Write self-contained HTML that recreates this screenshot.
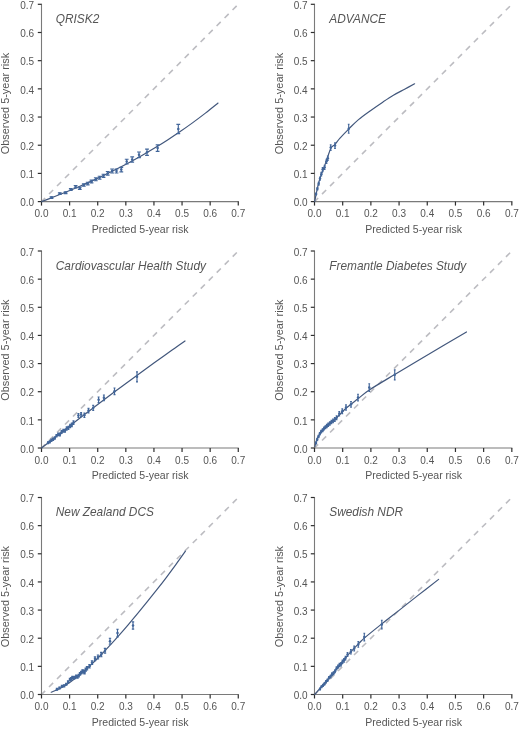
<!DOCTYPE html>
<html><head><meta charset="utf-8"><title>Calibration plots</title>
<style>
html,body{margin:0;padding:0;background:#fff}
svg{display:block;filter:blur(0.3px)}
text{font-family:"Liberation Sans",Arial,Helvetica,sans-serif;fill:#555555}
.t{font-size:10px}
.l{font-size:10.6px}
.l2{font-size:10.3px}
.h{font-size:11.85px;font-style:italic}
</style></head><body>
<svg width="520" height="729" viewBox="0 0 520 729">
<rect width="520" height="729" fill="#fff"/>
<line x1="41.5" y1="201.6" x2="238.27" y2="4.3" stroke="#bcbcc1" stroke-width="1.6" stroke-dasharray="5.8 5.5" stroke-dashoffset="0.65"/>
<path d="M41.5 3.8V201.6H238.77" fill="none" stroke="#7a7a7a" stroke-width="1.1"/>
<line x1="41.50" y1="201.6" x2="41.50" y2="205.6" stroke="#2e2e2e" stroke-width="1.2"/>
<line x1="37.8" y1="201.60" x2="41.5" y2="201.60" stroke="#2e2e2e" stroke-width="1.2"/>
<text x="41.50" y="217.40" text-anchor="middle" class="t">0.0</text>
<text x="34.20" y="206.30" text-anchor="end" class="t">0.0</text>
<line x1="69.61" y1="201.6" x2="69.61" y2="205.6" stroke="#2e2e2e" stroke-width="1.2"/>
<line x1="37.8" y1="173.41" x2="41.5" y2="173.41" stroke="#2e2e2e" stroke-width="1.2"/>
<text x="69.61" y="217.40" text-anchor="middle" class="t">0.1</text>
<text x="34.20" y="178.11" text-anchor="end" class="t">0.1</text>
<line x1="97.72" y1="201.6" x2="97.72" y2="205.6" stroke="#2e2e2e" stroke-width="1.2"/>
<line x1="37.8" y1="145.23" x2="41.5" y2="145.23" stroke="#2e2e2e" stroke-width="1.2"/>
<text x="97.72" y="217.40" text-anchor="middle" class="t">0.2</text>
<text x="34.20" y="149.93" text-anchor="end" class="t">0.2</text>
<line x1="125.83" y1="201.6" x2="125.83" y2="205.6" stroke="#2e2e2e" stroke-width="1.2"/>
<line x1="37.8" y1="117.04" x2="41.5" y2="117.04" stroke="#2e2e2e" stroke-width="1.2"/>
<text x="125.83" y="217.40" text-anchor="middle" class="t">0.3</text>
<text x="34.20" y="121.74" text-anchor="end" class="t">0.3</text>
<line x1="153.94" y1="201.6" x2="153.94" y2="205.6" stroke="#2e2e2e" stroke-width="1.2"/>
<line x1="37.8" y1="88.86" x2="41.5" y2="88.86" stroke="#2e2e2e" stroke-width="1.2"/>
<text x="153.94" y="217.40" text-anchor="middle" class="t">0.4</text>
<text x="34.20" y="93.56" text-anchor="end" class="t">0.4</text>
<line x1="182.05" y1="201.6" x2="182.05" y2="205.6" stroke="#2e2e2e" stroke-width="1.2"/>
<line x1="37.8" y1="60.67" x2="41.5" y2="60.67" stroke="#2e2e2e" stroke-width="1.2"/>
<text x="182.05" y="217.40" text-anchor="middle" class="t">0.5</text>
<text x="34.20" y="65.37" text-anchor="end" class="t">0.5</text>
<line x1="210.16" y1="201.6" x2="210.16" y2="205.6" stroke="#2e2e2e" stroke-width="1.2"/>
<line x1="37.8" y1="32.49" x2="41.5" y2="32.49" stroke="#2e2e2e" stroke-width="1.2"/>
<text x="210.16" y="217.40" text-anchor="middle" class="t">0.6</text>
<text x="34.20" y="37.19" text-anchor="end" class="t">0.6</text>
<line x1="238.27" y1="201.6" x2="238.27" y2="205.6" stroke="#2e2e2e" stroke-width="1.2"/>
<line x1="37.8" y1="4.30" x2="41.5" y2="4.30" stroke="#2e2e2e" stroke-width="1.2"/>
<text x="238.27" y="217.40" text-anchor="middle" class="t">0.7</text>
<text x="34.20" y="9.00" text-anchor="end" class="t">0.7</text>
<text x="91.80" y="232.90" class="l" textLength="96.7" lengthAdjust="spacingAndGlyphs">Predicted 5-year risk</text>
<text transform="translate(9.00 154.25) rotate(-90)" class="l2" textLength="101.4" lengthAdjust="spacingAndGlyphs">Observed 5-year risk</text>
<text x="55.80" y="23.20" class="h">QRISK2</text>
<path d="M41.50 201.60 C43.60 200.80 49.91 198.42 54.11 196.78 C58.31 195.13 62.52 193.46 66.72 191.74 C70.92 190.02 75.12 188.26 79.33 186.45 C83.53 184.64 87.73 182.79 91.94 180.89 C96.14 178.98 100.34 177.03 104.55 175.01 C108.75 173.00 112.95 170.93 117.16 168.80 C121.36 166.66 125.56 164.47 129.77 162.21 C133.97 159.95 138.17 157.63 142.37 155.22 C146.58 152.82 150.78 150.35 154.98 147.80 C159.19 145.25 163.39 142.63 167.59 139.91 C171.80 137.20 176.00 134.41 180.20 131.53 C184.41 128.65 188.61 125.68 192.81 122.62 C197.02 119.56 201.22 116.41 205.42 113.15 C209.62 109.90 215.93 104.77 218.03 103.09" fill="none" stroke="#42577c" stroke-width="1.2" stroke-linecap="round"/>
<path d="M51.50 196.70V198.30M49.60 196.70h3.8M49.60 198.30h3.8" stroke="#42669a" stroke-width="1.15" fill="none"/>
<circle cx="51.50" cy="197.50" r="1.25" fill="#42669a"/>
<path d="M59.80 192.90V194.50M57.90 192.90h3.8M57.90 194.50h3.8" stroke="#42669a" stroke-width="1.15" fill="none"/>
<circle cx="59.80" cy="193.70" r="1.25" fill="#42669a"/>
<path d="M65.60 191.80V193.60M63.70 191.80h3.8M63.70 193.60h3.8" stroke="#42669a" stroke-width="1.15" fill="none"/>
<circle cx="65.60" cy="192.70" r="1.25" fill="#42669a"/>
<path d="M70.80 188.50V190.30M68.90 188.50h3.8M68.90 190.30h3.8" stroke="#42669a" stroke-width="1.15" fill="none"/>
<circle cx="70.80" cy="189.40" r="1.25" fill="#42669a"/>
<path d="M75.60 185.50V187.90M73.70 185.50h3.8M73.70 187.90h3.8" stroke="#42669a" stroke-width="1.15" fill="none"/>
<circle cx="75.60" cy="186.70" r="1.25" fill="#42669a"/>
<path d="M79.80 187.10V189.50M77.90 187.10h3.8M77.90 189.50h3.8" stroke="#42669a" stroke-width="1.15" fill="none"/>
<circle cx="79.80" cy="188.30" r="1.25" fill="#42669a"/>
<path d="M83.80 183.80V186.20M81.90 183.80h3.8M81.90 186.20h3.8" stroke="#42669a" stroke-width="1.15" fill="none"/>
<circle cx="83.80" cy="185.00" r="1.25" fill="#42669a"/>
<path d="M87.70 182.20V184.80M85.80 182.20h3.8M85.80 184.80h3.8" stroke="#42669a" stroke-width="1.15" fill="none"/>
<circle cx="87.70" cy="183.50" r="1.25" fill="#42669a"/>
<path d="M91.50 180.10V182.90M89.60 180.10h3.8M89.60 182.90h3.8" stroke="#42669a" stroke-width="1.15" fill="none"/>
<circle cx="91.50" cy="181.50" r="1.25" fill="#42669a"/>
<path d="M95.80 177.70V180.70M93.90 177.70h3.8M93.90 180.70h3.8" stroke="#42669a" stroke-width="1.15" fill="none"/>
<circle cx="95.80" cy="179.20" r="1.25" fill="#42669a"/>
<path d="M99.60 176.20V179.20M97.70 176.20h3.8M97.70 179.20h3.8" stroke="#42669a" stroke-width="1.15" fill="none"/>
<circle cx="99.60" cy="177.70" r="1.25" fill="#42669a"/>
<path d="M103.50 174.20V177.40M101.60 174.20h3.8M101.60 177.40h3.8" stroke="#42669a" stroke-width="1.15" fill="none"/>
<circle cx="103.50" cy="175.80" r="1.25" fill="#42669a"/>
<path d="M107.70 171.50V175.10M105.80 171.50h3.8M105.80 175.10h3.8" stroke="#42669a" stroke-width="1.15" fill="none"/>
<circle cx="107.70" cy="173.30" r="1.25" fill="#42669a"/>
<path d="M112.10 169.00V173.00M110.20 169.00h3.8M110.20 173.00h3.8" stroke="#42669a" stroke-width="1.15" fill="none"/>
<circle cx="112.10" cy="171.00" r="1.25" fill="#42669a"/>
<path d="M116.50 169.00V173.00M114.60 169.00h3.8M114.60 173.00h3.8" stroke="#42669a" stroke-width="1.15" fill="none"/>
<circle cx="116.50" cy="171.00" r="1.25" fill="#42669a"/>
<path d="M121.30 167.40V171.80M119.40 167.40h3.8M119.40 171.80h3.8" stroke="#42669a" stroke-width="1.15" fill="none"/>
<circle cx="121.30" cy="169.60" r="1.25" fill="#42669a"/>
<path d="M126.70 159.20V164.00M124.80 159.20h3.8M124.80 164.00h3.8" stroke="#42669a" stroke-width="1.15" fill="none"/>
<circle cx="126.70" cy="161.60" r="1.25" fill="#42669a"/>
<path d="M132.20 156.90V162.10M130.30 156.90h3.8M130.30 162.10h3.8" stroke="#42669a" stroke-width="1.15" fill="none"/>
<circle cx="132.20" cy="159.50" r="1.25" fill="#42669a"/>
<path d="M139.00 152.00V157.60M137.10 152.00h3.8M137.10 157.60h3.8" stroke="#42669a" stroke-width="1.15" fill="none"/>
<circle cx="139.00" cy="154.80" r="1.25" fill="#42669a"/>
<path d="M147.00 149.10V155.30M145.10 149.10h3.8M145.10 155.30h3.8" stroke="#42669a" stroke-width="1.15" fill="none"/>
<circle cx="147.00" cy="152.20" r="1.25" fill="#42669a"/>
<path d="M157.60 144.90V151.30M155.70 144.90h3.8M155.70 151.30h3.8" stroke="#42669a" stroke-width="1.15" fill="none"/>
<circle cx="157.60" cy="148.10" r="1.25" fill="#42669a"/>
<path d="M178.30 124.40V133.60M176.40 124.40h3.8M176.40 133.60h3.8" stroke="#42669a" stroke-width="1.15" fill="none"/>
<circle cx="178.30" cy="129.00" r="1.25" fill="#42669a"/>
<line x1="314.5" y1="201.6" x2="511.83" y2="4.3" stroke="#bcbcc1" stroke-width="1.6" stroke-dasharray="5.8 5.5" stroke-dashoffset="0.65"/>
<path d="M314.5 3.8V201.6H512.33" fill="none" stroke="#7a7a7a" stroke-width="1.1"/>
<line x1="314.50" y1="201.6" x2="314.50" y2="205.6" stroke="#2e2e2e" stroke-width="1.2"/>
<line x1="310.8" y1="201.60" x2="314.5" y2="201.60" stroke="#2e2e2e" stroke-width="1.2"/>
<text x="314.50" y="217.40" text-anchor="middle" class="t">0.0</text>
<text x="307.70" y="206.30" text-anchor="end" class="t">0.0</text>
<line x1="342.69" y1="201.6" x2="342.69" y2="205.6" stroke="#2e2e2e" stroke-width="1.2"/>
<line x1="310.8" y1="173.41" x2="314.5" y2="173.41" stroke="#2e2e2e" stroke-width="1.2"/>
<text x="342.69" y="217.40" text-anchor="middle" class="t">0.1</text>
<text x="307.70" y="178.11" text-anchor="end" class="t">0.1</text>
<line x1="370.88" y1="201.6" x2="370.88" y2="205.6" stroke="#2e2e2e" stroke-width="1.2"/>
<line x1="310.8" y1="145.23" x2="314.5" y2="145.23" stroke="#2e2e2e" stroke-width="1.2"/>
<text x="370.88" y="217.40" text-anchor="middle" class="t">0.2</text>
<text x="307.70" y="149.93" text-anchor="end" class="t">0.2</text>
<line x1="399.07" y1="201.6" x2="399.07" y2="205.6" stroke="#2e2e2e" stroke-width="1.2"/>
<line x1="310.8" y1="117.04" x2="314.5" y2="117.04" stroke="#2e2e2e" stroke-width="1.2"/>
<text x="399.07" y="217.40" text-anchor="middle" class="t">0.3</text>
<text x="307.70" y="121.74" text-anchor="end" class="t">0.3</text>
<line x1="427.26" y1="201.6" x2="427.26" y2="205.6" stroke="#2e2e2e" stroke-width="1.2"/>
<line x1="310.8" y1="88.86" x2="314.5" y2="88.86" stroke="#2e2e2e" stroke-width="1.2"/>
<text x="427.26" y="217.40" text-anchor="middle" class="t">0.4</text>
<text x="307.70" y="93.56" text-anchor="end" class="t">0.4</text>
<line x1="455.45" y1="201.6" x2="455.45" y2="205.6" stroke="#2e2e2e" stroke-width="1.2"/>
<line x1="310.8" y1="60.67" x2="314.5" y2="60.67" stroke="#2e2e2e" stroke-width="1.2"/>
<text x="455.45" y="217.40" text-anchor="middle" class="t">0.5</text>
<text x="307.70" y="65.37" text-anchor="end" class="t">0.5</text>
<line x1="483.64" y1="201.6" x2="483.64" y2="205.6" stroke="#2e2e2e" stroke-width="1.2"/>
<line x1="310.8" y1="32.49" x2="314.5" y2="32.49" stroke="#2e2e2e" stroke-width="1.2"/>
<text x="483.64" y="217.40" text-anchor="middle" class="t">0.6</text>
<text x="307.70" y="37.19" text-anchor="end" class="t">0.6</text>
<line x1="511.83" y1="201.6" x2="511.83" y2="205.6" stroke="#2e2e2e" stroke-width="1.2"/>
<line x1="310.8" y1="4.30" x2="314.5" y2="4.30" stroke="#2e2e2e" stroke-width="1.2"/>
<text x="511.83" y="217.40" text-anchor="middle" class="t">0.7</text>
<text x="307.70" y="9.00" text-anchor="end" class="t">0.7</text>
<text x="365.30" y="232.90" class="l" textLength="96.7" lengthAdjust="spacingAndGlyphs">Predicted 5-year risk</text>
<text transform="translate(283.10 154.25) rotate(-90)" class="l2" textLength="101.4" lengthAdjust="spacingAndGlyphs">Observed 5-year risk</text>
<text x="329.30" y="23.20" class="h">ADVANCE</text>
<path d="M314.70 201.60 C314.98 200.17 315.72 196.18 316.40 193.00 C317.07 189.82 317.93 185.58 318.75 182.50 C319.57 179.42 320.47 176.88 321.30 174.50 C322.13 172.12 322.72 171.03 323.75 168.20 C324.78 165.37 326.31 160.83 327.50 157.50 C328.69 154.17 329.65 150.40 330.90 148.20 C332.15 146.00 333.48 145.98 335.00 144.30 C336.52 142.62 337.68 140.68 340.00 138.10 C342.32 135.52 345.82 131.88 348.90 128.80 C351.98 125.72 354.85 122.67 358.50 119.60 C362.15 116.53 366.70 113.35 370.80 110.40 C374.90 107.45 379.27 104.47 383.10 101.90 C386.93 99.33 390.22 97.12 393.80 95.00 C397.38 92.88 401.13 91.07 404.60 89.20 C408.07 87.33 412.93 84.70 414.60 83.80" fill="none" stroke="#42577c" stroke-width="1.2" stroke-linecap="round"/>
<path d="M316.10 193.00V195.00M315.20 193.00h1.8M315.20 195.00h1.8" stroke="#42669a" stroke-width="1.15" fill="none"/>
<circle cx="316.10" cy="194.00" r="1.25" fill="#42669a"/>
<path d="M317.40 187.50V189.90M316.50 187.50h1.8M316.50 189.90h1.8" stroke="#42669a" stroke-width="1.15" fill="none"/>
<circle cx="317.40" cy="188.70" r="1.25" fill="#42669a"/>
<path d="M318.70 182.40V185.20M317.80 182.40h1.8M317.80 185.20h1.8" stroke="#42669a" stroke-width="1.15" fill="none"/>
<circle cx="318.70" cy="183.80" r="1.25" fill="#42669a"/>
<path d="M320.00 177.00V180.20M319.10 177.00h1.8M319.10 180.20h1.8" stroke="#42669a" stroke-width="1.15" fill="none"/>
<circle cx="320.00" cy="178.60" r="1.25" fill="#42669a"/>
<path d="M321.30 172.40V176.00M320.40 172.40h1.8M320.40 176.00h1.8" stroke="#42669a" stroke-width="1.15" fill="none"/>
<circle cx="321.30" cy="174.20" r="1.25" fill="#42669a"/>
<path d="M322.60 167.60V171.60M321.70 167.60h1.8M321.70 171.60h1.8" stroke="#42669a" stroke-width="1.15" fill="none"/>
<circle cx="322.60" cy="169.60" r="1.25" fill="#42669a"/>
<path d="M324.60 165.30V169.30M323.70 165.30h1.8M323.70 169.30h1.8" stroke="#42669a" stroke-width="1.15" fill="none"/>
<circle cx="324.60" cy="167.30" r="1.25" fill="#42669a"/>
<path d="M326.50 159.30V163.30M325.60 159.30h1.8M325.60 163.30h1.8" stroke="#42669a" stroke-width="1.15" fill="none"/>
<circle cx="326.50" cy="161.30" r="1.25" fill="#42669a"/>
<path d="M327.80 156.00V160.40M326.90 156.00h1.8M326.90 160.40h1.8" stroke="#42669a" stroke-width="1.15" fill="none"/>
<circle cx="327.80" cy="158.20" r="1.25" fill="#42669a"/>
<path d="M330.70 144.80V150.40M329.80 144.80h1.8M329.80 150.40h1.8" stroke="#42669a" stroke-width="1.15" fill="none"/>
<circle cx="330.70" cy="147.60" r="1.25" fill="#42669a"/>
<path d="M335.00 142.80V148.40M334.10 142.80h1.8M334.10 148.40h1.8" stroke="#42669a" stroke-width="1.15" fill="none"/>
<circle cx="335.00" cy="145.60" r="1.25" fill="#42669a"/>
<path d="M348.70 124.20V133.20M347.80 124.20h1.8M347.80 133.20h1.8" stroke="#42669a" stroke-width="1.15" fill="none"/>
<circle cx="348.70" cy="128.70" r="1.25" fill="#42669a"/>
<line x1="41.5" y1="448.0" x2="238.27" y2="251.0" stroke="#bcbcc1" stroke-width="1.6" stroke-dasharray="5.8 5.5" stroke-dashoffset="0.65"/>
<path d="M41.5 250.5V448.0H238.77" fill="none" stroke="#7a7a7a" stroke-width="1.1"/>
<line x1="41.50" y1="448.0" x2="41.50" y2="452.0" stroke="#2e2e2e" stroke-width="1.2"/>
<line x1="37.8" y1="448.00" x2="41.5" y2="448.00" stroke="#2e2e2e" stroke-width="1.2"/>
<text x="41.50" y="463.80" text-anchor="middle" class="t">0.0</text>
<text x="34.20" y="452.70" text-anchor="end" class="t">0.0</text>
<line x1="69.61" y1="448.0" x2="69.61" y2="452.0" stroke="#2e2e2e" stroke-width="1.2"/>
<line x1="37.8" y1="419.86" x2="41.5" y2="419.86" stroke="#2e2e2e" stroke-width="1.2"/>
<text x="69.61" y="463.80" text-anchor="middle" class="t">0.1</text>
<text x="34.20" y="424.56" text-anchor="end" class="t">0.1</text>
<line x1="97.72" y1="448.0" x2="97.72" y2="452.0" stroke="#2e2e2e" stroke-width="1.2"/>
<line x1="37.8" y1="391.71" x2="41.5" y2="391.71" stroke="#2e2e2e" stroke-width="1.2"/>
<text x="97.72" y="463.80" text-anchor="middle" class="t">0.2</text>
<text x="34.20" y="396.41" text-anchor="end" class="t">0.2</text>
<line x1="125.83" y1="448.0" x2="125.83" y2="452.0" stroke="#2e2e2e" stroke-width="1.2"/>
<line x1="37.8" y1="363.57" x2="41.5" y2="363.57" stroke="#2e2e2e" stroke-width="1.2"/>
<text x="125.83" y="463.80" text-anchor="middle" class="t">0.3</text>
<text x="34.20" y="368.27" text-anchor="end" class="t">0.3</text>
<line x1="153.94" y1="448.0" x2="153.94" y2="452.0" stroke="#2e2e2e" stroke-width="1.2"/>
<line x1="37.8" y1="335.43" x2="41.5" y2="335.43" stroke="#2e2e2e" stroke-width="1.2"/>
<text x="153.94" y="463.80" text-anchor="middle" class="t">0.4</text>
<text x="34.20" y="340.13" text-anchor="end" class="t">0.4</text>
<line x1="182.05" y1="448.0" x2="182.05" y2="452.0" stroke="#2e2e2e" stroke-width="1.2"/>
<line x1="37.8" y1="307.29" x2="41.5" y2="307.29" stroke="#2e2e2e" stroke-width="1.2"/>
<text x="182.05" y="463.80" text-anchor="middle" class="t">0.5</text>
<text x="34.20" y="311.99" text-anchor="end" class="t">0.5</text>
<line x1="210.16" y1="448.0" x2="210.16" y2="452.0" stroke="#2e2e2e" stroke-width="1.2"/>
<line x1="37.8" y1="279.14" x2="41.5" y2="279.14" stroke="#2e2e2e" stroke-width="1.2"/>
<text x="210.16" y="463.80" text-anchor="middle" class="t">0.6</text>
<text x="34.20" y="283.84" text-anchor="end" class="t">0.6</text>
<line x1="238.27" y1="448.0" x2="238.27" y2="452.0" stroke="#2e2e2e" stroke-width="1.2"/>
<line x1="37.8" y1="251.00" x2="41.5" y2="251.00" stroke="#2e2e2e" stroke-width="1.2"/>
<text x="238.27" y="463.80" text-anchor="middle" class="t">0.7</text>
<text x="34.20" y="255.70" text-anchor="end" class="t">0.7</text>
<text x="91.80" y="479.30" class="l" textLength="96.7" lengthAdjust="spacingAndGlyphs">Predicted 5-year risk</text>
<text transform="translate(9.00 400.80) rotate(-90)" class="l2" textLength="101.4" lengthAdjust="spacingAndGlyphs">Observed 5-year risk</text>
<text x="55.80" y="269.90" class="h">Cardiovascular Health Study</text>
<path d="M41.50 448.00 C43.21 446.65 48.33 442.60 51.75 439.92 C55.17 437.24 58.58 434.57 62.00 431.91 C65.42 429.25 68.83 426.60 72.25 423.96 C75.67 421.32 79.08 418.69 82.50 416.08 C85.92 413.46 89.33 410.86 92.75 408.27 C96.17 405.68 99.58 403.09 103.00 400.52 C106.42 397.95 109.83 395.40 113.25 392.85 C116.67 390.30 120.08 387.76 123.50 385.24 C126.92 382.71 130.33 380.20 133.75 377.70 C137.17 375.19 140.58 372.70 144.00 370.22 C147.42 367.74 150.83 365.27 154.25 362.82 C157.67 360.36 161.08 357.91 164.50 355.48 C167.92 353.04 171.33 350.62 174.75 348.20 C178.17 345.79 183.29 342.20 185.00 341.00" fill="none" stroke="#42577c" stroke-width="1.2" stroke-linecap="round"/>
<path d="M48.00 441.70V443.70M47.00 441.70h2.0M47.00 443.70h2.0" stroke="#42669a" stroke-width="1.15" fill="none"/>
<circle cx="48.00" cy="442.70" r="1.25" fill="#42669a"/>
<path d="M49.70 440.86V442.96M48.70 440.86h2.0M48.70 442.96h2.0" stroke="#42669a" stroke-width="1.15" fill="none"/>
<circle cx="49.70" cy="441.91" r="1.25" fill="#42669a"/>
<path d="M51.40 439.16V441.36M50.40 439.16h2.0M50.40 441.36h2.0" stroke="#42669a" stroke-width="1.15" fill="none"/>
<circle cx="51.40" cy="440.26" r="1.25" fill="#42669a"/>
<path d="M53.10 438.19V440.50M52.10 438.19h2.0M52.10 440.50h2.0" stroke="#42669a" stroke-width="1.15" fill="none"/>
<circle cx="53.10" cy="439.35" r="1.25" fill="#42669a"/>
<path d="M54.80 436.84V439.26M53.80 436.84h2.0M53.80 439.26h2.0" stroke="#42669a" stroke-width="1.15" fill="none"/>
<circle cx="54.80" cy="438.05" r="1.25" fill="#42669a"/>
<path d="M56.50 434.45V436.98M55.50 434.45h2.0M55.50 436.98h2.0" stroke="#42669a" stroke-width="1.15" fill="none"/>
<circle cx="56.50" cy="435.71" r="1.25" fill="#42669a"/>
<path d="M58.20 432.98V435.61M57.20 432.98h2.0M57.20 435.61h2.0" stroke="#42669a" stroke-width="1.15" fill="none"/>
<circle cx="58.20" cy="434.29" r="1.25" fill="#42669a"/>
<path d="M59.90 433.08V435.82M58.90 433.08h2.0M58.90 435.82h2.0" stroke="#42669a" stroke-width="1.15" fill="none"/>
<circle cx="59.90" cy="434.45" r="1.25" fill="#42669a"/>
<path d="M61.60 430.67V433.50M60.60 430.67h2.0M60.60 433.50h2.0" stroke="#42669a" stroke-width="1.15" fill="none"/>
<circle cx="61.60" cy="432.08" r="1.25" fill="#42669a"/>
<path d="M63.30 429.24V432.19M62.30 429.24h2.0M62.30 432.19h2.0" stroke="#42669a" stroke-width="1.15" fill="none"/>
<circle cx="63.30" cy="430.72" r="1.25" fill="#42669a"/>
<path d="M65.00 429.24V432.29M64.00 429.24h2.0M64.00 432.29h2.0" stroke="#42669a" stroke-width="1.15" fill="none"/>
<circle cx="65.00" cy="430.76" r="1.25" fill="#42669a"/>
<path d="M66.70 426.92V430.08M65.70 426.92h2.0M65.70 430.08h2.0" stroke="#42669a" stroke-width="1.15" fill="none"/>
<circle cx="66.70" cy="428.50" r="1.25" fill="#42669a"/>
<path d="M68.40 426.21V429.47M67.40 426.21h2.0M67.40 429.47h2.0" stroke="#42669a" stroke-width="1.15" fill="none"/>
<circle cx="68.40" cy="427.84" r="1.25" fill="#42669a"/>
<path d="M70.10 424.20V427.56M69.10 424.20h2.0M69.10 427.56h2.0" stroke="#42669a" stroke-width="1.15" fill="none"/>
<circle cx="70.10" cy="425.88" r="1.25" fill="#42669a"/>
<path d="M71.80 423.12V426.59M70.80 423.12h2.0M70.80 426.59h2.0" stroke="#42669a" stroke-width="1.15" fill="none"/>
<circle cx="71.80" cy="424.86" r="1.25" fill="#42669a"/>
<path d="M73.50 420.88V424.45M72.50 420.88h2.0M72.50 424.45h2.0" stroke="#42669a" stroke-width="1.15" fill="none"/>
<circle cx="73.50" cy="422.67" r="1.25" fill="#42669a"/>
<path d="M78.40 413.50V417.50M77.40 413.50h2.0M77.40 417.50h2.0" stroke="#42669a" stroke-width="1.15" fill="none"/>
<circle cx="78.40" cy="415.50" r="1.25" fill="#42669a"/>
<path d="M81.10 412.60V416.60M80.10 412.60h2.0M80.10 416.60h2.0" stroke="#42669a" stroke-width="1.15" fill="none"/>
<circle cx="81.10" cy="414.60" r="1.25" fill="#42669a"/>
<path d="M84.40 413.10V417.50M83.40 413.10h2.0M83.40 417.50h2.0" stroke="#42669a" stroke-width="1.15" fill="none"/>
<circle cx="84.40" cy="415.30" r="1.25" fill="#42669a"/>
<path d="M88.50 408.30V412.90M87.50 408.30h2.0M87.50 412.90h2.0" stroke="#42669a" stroke-width="1.15" fill="none"/>
<circle cx="88.50" cy="410.60" r="1.25" fill="#42669a"/>
<path d="M93.20 405.40V410.40M92.20 405.40h2.0M92.20 410.40h2.0" stroke="#42669a" stroke-width="1.15" fill="none"/>
<circle cx="93.20" cy="407.90" r="1.25" fill="#42669a"/>
<path d="M98.60 397.00V402.60M97.60 397.00h2.0M97.60 402.60h2.0" stroke="#42669a" stroke-width="1.15" fill="none"/>
<circle cx="98.60" cy="399.80" r="1.25" fill="#42669a"/>
<path d="M103.90 395.00V400.60M102.90 395.00h2.0M102.90 400.60h2.0" stroke="#42669a" stroke-width="1.15" fill="none"/>
<circle cx="103.90" cy="397.80" r="1.25" fill="#42669a"/>
<path d="M114.50 388.00V394.60M113.50 388.00h2.0M113.50 394.60h2.0" stroke="#42669a" stroke-width="1.15" fill="none"/>
<circle cx="114.50" cy="391.30" r="1.25" fill="#42669a"/>
<path d="M137.00 371.80V381.80M136.00 371.80h2.0M136.00 381.80h2.0" stroke="#42669a" stroke-width="1.15" fill="none"/>
<circle cx="137.00" cy="376.80" r="1.25" fill="#42669a"/>
<line x1="314.5" y1="448.0" x2="511.83" y2="251.0" stroke="#bcbcc1" stroke-width="1.6" stroke-dasharray="5.8 5.5" stroke-dashoffset="0.65"/>
<path d="M314.5 250.5V448.0H512.33" fill="none" stroke="#7a7a7a" stroke-width="1.1"/>
<line x1="314.50" y1="448.0" x2="314.50" y2="452.0" stroke="#2e2e2e" stroke-width="1.2"/>
<line x1="310.8" y1="448.00" x2="314.5" y2="448.00" stroke="#2e2e2e" stroke-width="1.2"/>
<text x="314.50" y="463.80" text-anchor="middle" class="t">0.0</text>
<text x="307.70" y="452.70" text-anchor="end" class="t">0.0</text>
<line x1="342.69" y1="448.0" x2="342.69" y2="452.0" stroke="#2e2e2e" stroke-width="1.2"/>
<line x1="310.8" y1="419.86" x2="314.5" y2="419.86" stroke="#2e2e2e" stroke-width="1.2"/>
<text x="342.69" y="463.80" text-anchor="middle" class="t">0.1</text>
<text x="307.70" y="424.56" text-anchor="end" class="t">0.1</text>
<line x1="370.88" y1="448.0" x2="370.88" y2="452.0" stroke="#2e2e2e" stroke-width="1.2"/>
<line x1="310.8" y1="391.71" x2="314.5" y2="391.71" stroke="#2e2e2e" stroke-width="1.2"/>
<text x="370.88" y="463.80" text-anchor="middle" class="t">0.2</text>
<text x="307.70" y="396.41" text-anchor="end" class="t">0.2</text>
<line x1="399.07" y1="448.0" x2="399.07" y2="452.0" stroke="#2e2e2e" stroke-width="1.2"/>
<line x1="310.8" y1="363.57" x2="314.5" y2="363.57" stroke="#2e2e2e" stroke-width="1.2"/>
<text x="399.07" y="463.80" text-anchor="middle" class="t">0.3</text>
<text x="307.70" y="368.27" text-anchor="end" class="t">0.3</text>
<line x1="427.26" y1="448.0" x2="427.26" y2="452.0" stroke="#2e2e2e" stroke-width="1.2"/>
<line x1="310.8" y1="335.43" x2="314.5" y2="335.43" stroke="#2e2e2e" stroke-width="1.2"/>
<text x="427.26" y="463.80" text-anchor="middle" class="t">0.4</text>
<text x="307.70" y="340.13" text-anchor="end" class="t">0.4</text>
<line x1="455.45" y1="448.0" x2="455.45" y2="452.0" stroke="#2e2e2e" stroke-width="1.2"/>
<line x1="310.8" y1="307.29" x2="314.5" y2="307.29" stroke="#2e2e2e" stroke-width="1.2"/>
<text x="455.45" y="463.80" text-anchor="middle" class="t">0.5</text>
<text x="307.70" y="311.99" text-anchor="end" class="t">0.5</text>
<line x1="483.64" y1="448.0" x2="483.64" y2="452.0" stroke="#2e2e2e" stroke-width="1.2"/>
<line x1="310.8" y1="279.14" x2="314.5" y2="279.14" stroke="#2e2e2e" stroke-width="1.2"/>
<text x="483.64" y="463.80" text-anchor="middle" class="t">0.6</text>
<text x="307.70" y="283.84" text-anchor="end" class="t">0.6</text>
<line x1="511.83" y1="448.0" x2="511.83" y2="452.0" stroke="#2e2e2e" stroke-width="1.2"/>
<line x1="310.8" y1="251.00" x2="314.5" y2="251.00" stroke="#2e2e2e" stroke-width="1.2"/>
<text x="511.83" y="463.80" text-anchor="middle" class="t">0.7</text>
<text x="307.70" y="255.70" text-anchor="end" class="t">0.7</text>
<text x="365.30" y="479.30" class="l" textLength="96.7" lengthAdjust="spacingAndGlyphs">Predicted 5-year risk</text>
<text transform="translate(283.10 400.80) rotate(-90)" class="l2" textLength="101.4" lengthAdjust="spacingAndGlyphs">Observed 5-year risk</text>
<text x="329.30" y="269.90" class="h">Fremantle Diabetes Study</text>
<path d="M314.90 446.50 C315.17 445.50 315.57 442.83 316.50 440.50 C317.43 438.17 318.75 435.03 320.50 432.50 C322.25 429.97 324.50 427.59 327.00 425.30 C329.50 423.01 332.33 421.58 335.50 418.75 C338.67 415.92 342.25 411.63 346.00 408.30 C349.75 404.97 354.12 401.80 358.00 398.75 C361.88 395.70 363.12 394.04 369.25 390.00 C375.38 385.96 384.62 380.58 394.75 374.50 C404.88 368.42 418.04 360.58 430.00 353.50 C441.96 346.42 460.42 335.58 466.50 332.00" fill="none" stroke="#42577c" stroke-width="1.2" stroke-linecap="round"/>
<path d="M316.00 442.00V444.00M315.10 442.00h1.8M315.10 444.00h1.8" stroke="#42669a" stroke-width="1.15" fill="none"/>
<circle cx="316.00" cy="443.00" r="1.25" fill="#42669a"/>
<path d="M317.20 438.43V440.57M316.30 438.43h1.8M316.30 440.57h1.8" stroke="#42669a" stroke-width="1.15" fill="none"/>
<circle cx="317.20" cy="439.50" r="1.25" fill="#42669a"/>
<path d="M318.50 435.36V437.64M317.60 435.36h1.8M317.60 437.64h1.8" stroke="#42669a" stroke-width="1.15" fill="none"/>
<circle cx="318.50" cy="436.50" r="1.25" fill="#42669a"/>
<path d="M319.80 432.59V435.01M318.90 432.59h1.8M318.90 435.01h1.8" stroke="#42669a" stroke-width="1.15" fill="none"/>
<circle cx="319.80" cy="433.80" r="1.25" fill="#42669a"/>
<path d="M321.20 430.32V432.88M320.30 430.32h1.8M320.30 432.88h1.8" stroke="#42669a" stroke-width="1.15" fill="none"/>
<circle cx="321.20" cy="431.60" r="1.25" fill="#42669a"/>
<path d="M322.60 428.85V431.55M321.70 428.85h1.8M321.70 431.55h1.8" stroke="#42669a" stroke-width="1.15" fill="none"/>
<circle cx="322.60" cy="430.20" r="1.25" fill="#42669a"/>
<path d="M324.00 427.18V430.02M323.10 427.18h1.8M323.10 430.02h1.8" stroke="#42669a" stroke-width="1.15" fill="none"/>
<circle cx="324.00" cy="428.60" r="1.25" fill="#42669a"/>
<path d="M325.40 425.81V428.79M324.50 425.81h1.8M324.50 428.79h1.8" stroke="#42669a" stroke-width="1.15" fill="none"/>
<circle cx="325.40" cy="427.30" r="1.25" fill="#42669a"/>
<path d="M326.80 424.44V427.56M325.90 424.44h1.8M325.90 427.56h1.8" stroke="#42669a" stroke-width="1.15" fill="none"/>
<circle cx="326.80" cy="426.00" r="1.25" fill="#42669a"/>
<path d="M328.20 423.17V426.43M327.30 423.17h1.8M327.30 426.43h1.8" stroke="#42669a" stroke-width="1.15" fill="none"/>
<circle cx="328.20" cy="424.80" r="1.25" fill="#42669a"/>
<path d="M329.80 421.70V425.10M328.90 421.70h1.8M328.90 425.10h1.8" stroke="#42669a" stroke-width="1.15" fill="none"/>
<circle cx="329.80" cy="423.40" r="1.25" fill="#42669a"/>
<path d="M331.40 420.23V423.77M330.50 420.23h1.8M330.50 423.77h1.8" stroke="#42669a" stroke-width="1.15" fill="none"/>
<circle cx="331.40" cy="422.00" r="1.25" fill="#42669a"/>
<path d="M333.00 418.96V422.64M332.10 418.96h1.8M332.10 422.64h1.8" stroke="#42669a" stroke-width="1.15" fill="none"/>
<circle cx="333.00" cy="420.80" r="1.25" fill="#42669a"/>
<path d="M334.80 417.49V421.31M333.90 417.49h1.8M333.90 421.31h1.8" stroke="#42669a" stroke-width="1.15" fill="none"/>
<circle cx="334.80" cy="419.40" r="1.25" fill="#42669a"/>
<path d="M336.60 415.82V419.78M335.70 415.82h1.8M335.70 419.78h1.8" stroke="#42669a" stroke-width="1.15" fill="none"/>
<circle cx="336.60" cy="417.80" r="1.25" fill="#42669a"/>
<path d="M339.25 411.55V415.95M338.35 411.55h1.8M338.35 415.95h1.8" stroke="#42669a" stroke-width="1.15" fill="none"/>
<circle cx="339.25" cy="413.75" r="1.25" fill="#42669a"/>
<path d="M342.25 408.85V413.65M341.35 408.85h1.8M341.35 413.65h1.8" stroke="#42669a" stroke-width="1.15" fill="none"/>
<circle cx="342.25" cy="411.25" r="1.25" fill="#42669a"/>
<path d="M346.00 404.90V410.10M345.10 404.90h1.8M345.10 410.10h1.8" stroke="#42669a" stroke-width="1.15" fill="none"/>
<circle cx="346.00" cy="407.50" r="1.25" fill="#42669a"/>
<path d="M351.00 401.45V407.05M350.10 401.45h1.8M350.10 407.05h1.8" stroke="#42669a" stroke-width="1.15" fill="none"/>
<circle cx="351.00" cy="404.25" r="1.25" fill="#42669a"/>
<path d="M358.00 394.20V400.80M357.10 394.20h1.8M357.10 400.80h1.8" stroke="#42669a" stroke-width="1.15" fill="none"/>
<circle cx="358.00" cy="397.50" r="1.25" fill="#42669a"/>
<path d="M369.25 383.70V391.30M368.35 383.70h1.8M368.35 391.30h1.8" stroke="#42669a" stroke-width="1.15" fill="none"/>
<circle cx="369.25" cy="387.50" r="1.25" fill="#42669a"/>
<path d="M394.75 369.80V379.80M393.85 369.80h1.8M393.85 379.80h1.8" stroke="#42669a" stroke-width="1.15" fill="none"/>
<circle cx="394.75" cy="374.80" r="1.25" fill="#42669a"/>
<line x1="41.5" y1="694.5" x2="238.27" y2="497.5" stroke="#bcbcc1" stroke-width="1.6" stroke-dasharray="5.8 5.5" stroke-dashoffset="0.65"/>
<path d="M41.5 497.0V694.5H238.77" fill="none" stroke="#7a7a7a" stroke-width="1.1"/>
<line x1="41.50" y1="694.5" x2="41.50" y2="698.5" stroke="#2e2e2e" stroke-width="1.2"/>
<line x1="37.8" y1="694.50" x2="41.5" y2="694.50" stroke="#2e2e2e" stroke-width="1.2"/>
<text x="41.50" y="710.30" text-anchor="middle" class="t">0.0</text>
<text x="34.20" y="699.20" text-anchor="end" class="t">0.0</text>
<line x1="69.61" y1="694.5" x2="69.61" y2="698.5" stroke="#2e2e2e" stroke-width="1.2"/>
<line x1="37.8" y1="666.36" x2="41.5" y2="666.36" stroke="#2e2e2e" stroke-width="1.2"/>
<text x="69.61" y="710.30" text-anchor="middle" class="t">0.1</text>
<text x="34.20" y="671.06" text-anchor="end" class="t">0.1</text>
<line x1="97.72" y1="694.5" x2="97.72" y2="698.5" stroke="#2e2e2e" stroke-width="1.2"/>
<line x1="37.8" y1="638.21" x2="41.5" y2="638.21" stroke="#2e2e2e" stroke-width="1.2"/>
<text x="97.72" y="710.30" text-anchor="middle" class="t">0.2</text>
<text x="34.20" y="642.91" text-anchor="end" class="t">0.2</text>
<line x1="125.83" y1="694.5" x2="125.83" y2="698.5" stroke="#2e2e2e" stroke-width="1.2"/>
<line x1="37.8" y1="610.07" x2="41.5" y2="610.07" stroke="#2e2e2e" stroke-width="1.2"/>
<text x="125.83" y="710.30" text-anchor="middle" class="t">0.3</text>
<text x="34.20" y="614.77" text-anchor="end" class="t">0.3</text>
<line x1="153.94" y1="694.5" x2="153.94" y2="698.5" stroke="#2e2e2e" stroke-width="1.2"/>
<line x1="37.8" y1="581.93" x2="41.5" y2="581.93" stroke="#2e2e2e" stroke-width="1.2"/>
<text x="153.94" y="710.30" text-anchor="middle" class="t">0.4</text>
<text x="34.20" y="586.63" text-anchor="end" class="t">0.4</text>
<line x1="182.05" y1="694.5" x2="182.05" y2="698.5" stroke="#2e2e2e" stroke-width="1.2"/>
<line x1="37.8" y1="553.79" x2="41.5" y2="553.79" stroke="#2e2e2e" stroke-width="1.2"/>
<text x="182.05" y="710.30" text-anchor="middle" class="t">0.5</text>
<text x="34.20" y="558.49" text-anchor="end" class="t">0.5</text>
<line x1="210.16" y1="694.5" x2="210.16" y2="698.5" stroke="#2e2e2e" stroke-width="1.2"/>
<line x1="37.8" y1="525.64" x2="41.5" y2="525.64" stroke="#2e2e2e" stroke-width="1.2"/>
<text x="210.16" y="710.30" text-anchor="middle" class="t">0.6</text>
<text x="34.20" y="530.34" text-anchor="end" class="t">0.6</text>
<line x1="238.27" y1="694.5" x2="238.27" y2="698.5" stroke="#2e2e2e" stroke-width="1.2"/>
<line x1="37.8" y1="497.50" x2="41.5" y2="497.50" stroke="#2e2e2e" stroke-width="1.2"/>
<text x="238.27" y="710.30" text-anchor="middle" class="t">0.7</text>
<text x="34.20" y="502.20" text-anchor="end" class="t">0.7</text>
<text x="91.80" y="725.80" class="l" textLength="96.7" lengthAdjust="spacingAndGlyphs">Predicted 5-year risk</text>
<text transform="translate(9.00 647.30) rotate(-90)" class="l2" textLength="101.4" lengthAdjust="spacingAndGlyphs">Observed 5-year risk</text>
<text x="55.80" y="516.40" class="h">New Zealand DCS</text>
<path d="M51.25 692.23 C52.85 691.52 57.64 689.65 60.84 687.94 C64.03 686.23 67.23 684.18 70.42 681.96 C73.62 679.73 76.81 677.23 80.00 674.59 C83.20 671.95 86.39 669.08 89.59 666.11 C92.78 663.13 95.98 659.98 99.17 656.74 C102.37 653.51 105.56 650.13 108.76 646.69 C111.95 643.24 115.14 639.69 118.34 636.09 C121.53 632.48 124.73 628.79 127.92 625.06 C131.12 621.32 134.31 617.52 137.51 613.67 C140.70 609.82 143.89 605.92 147.09 601.97 C150.28 598.01 153.48 594.00 156.67 589.93 C159.87 585.85 163.06 581.73 166.26 577.52 C169.45 573.30 172.65 569.03 175.84 564.64 C179.03 560.26 183.83 553.43 185.42 551.19" fill="none" stroke="#42577c" stroke-width="1.2" stroke-linecap="round"/>
<path d="M57.00 688.25V690.25M55.80 688.25h2.4M55.80 690.25h2.4" stroke="#42669a" stroke-width="1.15" fill="none"/>
<circle cx="57.00" cy="689.25" r="1.25" fill="#42669a"/>
<path d="M62.00 685.25V687.25M60.80 685.25h2.4M60.80 687.25h2.4" stroke="#42669a" stroke-width="1.15" fill="none"/>
<circle cx="62.00" cy="686.25" r="1.25" fill="#42669a"/>
<path d="M66.25 683.25V685.25M65.05 683.25h2.4M65.05 685.25h2.4" stroke="#42669a" stroke-width="1.15" fill="none"/>
<circle cx="66.25" cy="684.25" r="1.25" fill="#42669a"/>
<path d="M70.00 678.30V680.70M68.80 678.30h2.4M68.80 680.70h2.4" stroke="#42669a" stroke-width="1.15" fill="none"/>
<circle cx="70.00" cy="679.50" r="1.25" fill="#42669a"/>
<path d="M72.50 676.30V678.70M71.30 676.30h2.4M71.30 678.70h2.4" stroke="#42669a" stroke-width="1.15" fill="none"/>
<circle cx="72.50" cy="677.50" r="1.25" fill="#42669a"/>
<path d="M75.00 676.30V678.70M73.80 676.30h2.4M73.80 678.70h2.4" stroke="#42669a" stroke-width="1.15" fill="none"/>
<circle cx="75.00" cy="677.50" r="1.25" fill="#42669a"/>
<path d="M77.50 675.45V678.05M76.30 675.45h2.4M76.30 678.05h2.4" stroke="#42669a" stroke-width="1.15" fill="none"/>
<circle cx="77.50" cy="676.75" r="1.25" fill="#42669a"/>
<path d="M80.00 672.45V675.05M78.80 672.45h2.4M78.80 675.05h2.4" stroke="#42669a" stroke-width="1.15" fill="none"/>
<circle cx="80.00" cy="673.75" r="1.25" fill="#42669a"/>
<path d="M82.50 669.85V672.65M81.30 669.85h2.4M81.30 672.65h2.4" stroke="#42669a" stroke-width="1.15" fill="none"/>
<circle cx="82.50" cy="671.25" r="1.25" fill="#42669a"/>
<path d="M84.50 671.10V673.90M83.30 671.10h2.4M83.30 673.90h2.4" stroke="#42669a" stroke-width="1.15" fill="none"/>
<circle cx="84.50" cy="672.50" r="1.25" fill="#42669a"/>
<path d="M87.00 666.65V669.85M85.80 666.65h2.4M85.80 669.85h2.4" stroke="#42669a" stroke-width="1.15" fill="none"/>
<circle cx="87.00" cy="668.25" r="1.25" fill="#42669a"/>
<path d="M89.50 664.55V667.95M88.30 664.55h2.4M88.30 667.95h2.4" stroke="#42669a" stroke-width="1.15" fill="none"/>
<circle cx="89.50" cy="666.25" r="1.25" fill="#42669a"/>
<path d="M92.00 660.70V664.30M90.80 660.70h2.4M90.80 664.30h2.4" stroke="#42669a" stroke-width="1.15" fill="none"/>
<circle cx="92.00" cy="662.50" r="1.25" fill="#42669a"/>
<path d="M95.00 656.85V660.65M93.80 656.85h2.4M93.80 660.65h2.4" stroke="#42669a" stroke-width="1.15" fill="none"/>
<circle cx="95.00" cy="658.75" r="1.25" fill="#42669a"/>
<path d="M98.00 655.00V659.00M96.80 655.00h2.4M96.80 659.00h2.4" stroke="#42669a" stroke-width="1.15" fill="none"/>
<circle cx="98.00" cy="657.00" r="1.25" fill="#42669a"/>
<path d="M101.25 652.30V656.70M100.05 652.30h2.4M100.05 656.70h2.4" stroke="#42669a" stroke-width="1.15" fill="none"/>
<circle cx="101.25" cy="654.50" r="1.25" fill="#42669a"/>
<path d="M105.00 648.35V653.15M103.80 648.35h2.4M103.80 653.15h2.4" stroke="#42669a" stroke-width="1.15" fill="none"/>
<circle cx="105.00" cy="650.75" r="1.25" fill="#42669a"/>
<path d="M110.00 638.25V644.25M108.80 638.25h2.4M108.80 644.25h2.4" stroke="#42669a" stroke-width="1.15" fill="none"/>
<circle cx="110.00" cy="641.25" r="1.25" fill="#42669a"/>
<path d="M117.50 629.20V636.80M116.30 629.20h2.4M116.30 636.80h2.4" stroke="#42669a" stroke-width="1.15" fill="none"/>
<circle cx="117.50" cy="633.00" r="1.25" fill="#42669a"/>
<path d="M133.00 621.90V629.10M131.80 621.90h2.4M131.80 629.10h2.4" stroke="#42669a" stroke-width="1.15" fill="none"/>
<circle cx="133.00" cy="625.50" r="1.25" fill="#42669a"/>
<path d="M59.50 686.97V688.97M58.30 686.97h2.4M58.30 688.97h2.4" stroke="#42669a" stroke-width="1.15" fill="none"/>
<circle cx="59.50" cy="687.97" r="1.25" fill="#42669a"/>
<path d="M64.12 684.84V686.84M62.92 684.84h2.4M62.92 686.84h2.4" stroke="#42669a" stroke-width="1.15" fill="none"/>
<circle cx="64.12" cy="685.84" r="1.25" fill="#42669a"/>
<path d="M68.12 680.81V683.01M66.92 680.81h2.4M66.92 683.01h2.4" stroke="#42669a" stroke-width="1.15" fill="none"/>
<circle cx="68.12" cy="681.91" r="1.25" fill="#42669a"/>
<path d="M71.25 677.69V680.09M70.05 677.69h2.4M70.05 680.09h2.4" stroke="#42669a" stroke-width="1.15" fill="none"/>
<circle cx="71.25" cy="678.89" r="1.25" fill="#42669a"/>
<path d="M73.75 676.57V678.97M72.55 676.57h2.4M72.55 678.97h2.4" stroke="#42669a" stroke-width="1.15" fill="none"/>
<circle cx="73.75" cy="677.77" r="1.25" fill="#42669a"/>
<path d="M76.25 675.18V677.68M75.05 675.18h2.4M75.05 677.68h2.4" stroke="#42669a" stroke-width="1.15" fill="none"/>
<circle cx="76.25" cy="676.43" r="1.25" fill="#42669a"/>
<path d="M78.75 674.36V676.96M77.55 674.36h2.4M77.55 676.96h2.4" stroke="#42669a" stroke-width="1.15" fill="none"/>
<circle cx="78.75" cy="675.66" r="1.25" fill="#42669a"/>
<path d="M81.25 671.30V674.00M80.05 671.30h2.4M80.05 674.00h2.4" stroke="#42669a" stroke-width="1.15" fill="none"/>
<circle cx="81.25" cy="672.65" r="1.25" fill="#42669a"/>
<path d="M83.50 670.16V672.96M82.30 670.16h2.4M82.30 672.96h2.4" stroke="#42669a" stroke-width="1.15" fill="none"/>
<circle cx="83.50" cy="671.56" r="1.25" fill="#42669a"/>
<path d="M85.75 668.12V671.12M84.55 668.12h2.4M84.55 671.12h2.4" stroke="#42669a" stroke-width="1.15" fill="none"/>
<circle cx="85.75" cy="669.62" r="1.25" fill="#42669a"/>
<line x1="314.5" y1="694.5" x2="511.83" y2="497.5" stroke="#bcbcc1" stroke-width="1.6" stroke-dasharray="5.8 5.5" stroke-dashoffset="0.65"/>
<path d="M314.5 497.0V694.5H512.33" fill="none" stroke="#7a7a7a" stroke-width="1.1"/>
<line x1="314.50" y1="694.5" x2="314.50" y2="698.5" stroke="#2e2e2e" stroke-width="1.2"/>
<line x1="310.8" y1="694.50" x2="314.5" y2="694.50" stroke="#2e2e2e" stroke-width="1.2"/>
<text x="314.50" y="710.30" text-anchor="middle" class="t">0.0</text>
<text x="307.70" y="699.20" text-anchor="end" class="t">0.0</text>
<line x1="342.69" y1="694.5" x2="342.69" y2="698.5" stroke="#2e2e2e" stroke-width="1.2"/>
<line x1="310.8" y1="666.36" x2="314.5" y2="666.36" stroke="#2e2e2e" stroke-width="1.2"/>
<text x="342.69" y="710.30" text-anchor="middle" class="t">0.1</text>
<text x="307.70" y="671.06" text-anchor="end" class="t">0.1</text>
<line x1="370.88" y1="694.5" x2="370.88" y2="698.5" stroke="#2e2e2e" stroke-width="1.2"/>
<line x1="310.8" y1="638.21" x2="314.5" y2="638.21" stroke="#2e2e2e" stroke-width="1.2"/>
<text x="370.88" y="710.30" text-anchor="middle" class="t">0.2</text>
<text x="307.70" y="642.91" text-anchor="end" class="t">0.2</text>
<line x1="399.07" y1="694.5" x2="399.07" y2="698.5" stroke="#2e2e2e" stroke-width="1.2"/>
<line x1="310.8" y1="610.07" x2="314.5" y2="610.07" stroke="#2e2e2e" stroke-width="1.2"/>
<text x="399.07" y="710.30" text-anchor="middle" class="t">0.3</text>
<text x="307.70" y="614.77" text-anchor="end" class="t">0.3</text>
<line x1="427.26" y1="694.5" x2="427.26" y2="698.5" stroke="#2e2e2e" stroke-width="1.2"/>
<line x1="310.8" y1="581.93" x2="314.5" y2="581.93" stroke="#2e2e2e" stroke-width="1.2"/>
<text x="427.26" y="710.30" text-anchor="middle" class="t">0.4</text>
<text x="307.70" y="586.63" text-anchor="end" class="t">0.4</text>
<line x1="455.45" y1="694.5" x2="455.45" y2="698.5" stroke="#2e2e2e" stroke-width="1.2"/>
<line x1="310.8" y1="553.79" x2="314.5" y2="553.79" stroke="#2e2e2e" stroke-width="1.2"/>
<text x="455.45" y="710.30" text-anchor="middle" class="t">0.5</text>
<text x="307.70" y="558.49" text-anchor="end" class="t">0.5</text>
<line x1="483.64" y1="694.5" x2="483.64" y2="698.5" stroke="#2e2e2e" stroke-width="1.2"/>
<line x1="310.8" y1="525.64" x2="314.5" y2="525.64" stroke="#2e2e2e" stroke-width="1.2"/>
<text x="483.64" y="710.30" text-anchor="middle" class="t">0.6</text>
<text x="307.70" y="530.34" text-anchor="end" class="t">0.6</text>
<line x1="511.83" y1="694.5" x2="511.83" y2="698.5" stroke="#2e2e2e" stroke-width="1.2"/>
<line x1="310.8" y1="497.50" x2="314.5" y2="497.50" stroke="#2e2e2e" stroke-width="1.2"/>
<text x="511.83" y="710.30" text-anchor="middle" class="t">0.7</text>
<text x="307.70" y="502.20" text-anchor="end" class="t">0.7</text>
<text x="365.30" y="725.80" class="l" textLength="96.7" lengthAdjust="spacingAndGlyphs">Predicted 5-year risk</text>
<text transform="translate(283.10 647.30) rotate(-90)" class="l2" textLength="101.4" lengthAdjust="spacingAndGlyphs">Observed 5-year risk</text>
<text x="329.30" y="516.40" class="h">Swedish NDR</text>
<path d="M314.70 694.50 C316.42 692.53 321.33 686.97 325.00 682.70 C328.67 678.43 332.95 673.42 336.70 668.90 C340.45 664.38 343.80 659.85 347.50 655.60 C351.20 651.35 356.10 646.32 358.90 643.40 C361.70 640.48 360.48 641.35 364.30 638.10 C368.12 634.85 375.85 628.65 381.80 623.90 C387.75 619.15 393.97 614.35 400.00 609.60 C406.03 604.85 411.57 600.43 418.00 595.40 C424.43 590.37 435.17 582.07 438.60 579.40" fill="none" stroke="#42577c" stroke-width="1.2" stroke-linecap="round"/>
<path d="M320.00 688.18V689.98M319.10 688.18h1.8M319.10 689.98h1.8" stroke="#42669a" stroke-width="1.15" fill="none"/>
<circle cx="320.00" cy="689.08" r="1.25" fill="#42669a"/>
<path d="M321.50 685.80V687.71M320.60 685.80h1.8M320.60 687.71h1.8" stroke="#42669a" stroke-width="1.15" fill="none"/>
<circle cx="321.50" cy="686.75" r="1.25" fill="#42669a"/>
<path d="M323.00 684.31V686.33M322.10 684.31h1.8M322.10 686.33h1.8" stroke="#42669a" stroke-width="1.15" fill="none"/>
<circle cx="323.00" cy="685.32" r="1.25" fill="#42669a"/>
<path d="M324.50 682.70V684.83M323.60 682.70h1.8M323.60 684.83h1.8" stroke="#42669a" stroke-width="1.15" fill="none"/>
<circle cx="324.50" cy="683.77" r="1.25" fill="#42669a"/>
<path d="M326.00 680.63V682.88M325.10 680.63h1.8M325.10 682.88h1.8" stroke="#42669a" stroke-width="1.15" fill="none"/>
<circle cx="326.00" cy="681.76" r="1.25" fill="#42669a"/>
<path d="M327.50 679.09V681.45M326.60 679.09h1.8M326.60 681.45h1.8" stroke="#42669a" stroke-width="1.15" fill="none"/>
<circle cx="327.50" cy="680.27" r="1.25" fill="#42669a"/>
<path d="M329.00 676.52V678.99M328.10 676.52h1.8M328.10 678.99h1.8" stroke="#42669a" stroke-width="1.15" fill="none"/>
<circle cx="329.00" cy="677.75" r="1.25" fill="#42669a"/>
<path d="M330.50 675.25V677.83M329.60 675.25h1.8M329.60 677.83h1.8" stroke="#42669a" stroke-width="1.15" fill="none"/>
<circle cx="330.50" cy="676.54" r="1.25" fill="#42669a"/>
<path d="M332.00 672.92V675.61M331.10 672.92h1.8M331.10 675.61h1.8" stroke="#42669a" stroke-width="1.15" fill="none"/>
<circle cx="332.00" cy="674.27" r="1.25" fill="#42669a"/>
<path d="M333.50 671.77V674.57M332.60 671.77h1.8M332.60 674.57h1.8" stroke="#42669a" stroke-width="1.15" fill="none"/>
<circle cx="333.50" cy="673.17" r="1.25" fill="#42669a"/>
<path d="M335.00 669.86V672.77M334.10 669.86h1.8M334.10 672.77h1.8" stroke="#42669a" stroke-width="1.15" fill="none"/>
<circle cx="335.00" cy="671.32" r="1.25" fill="#42669a"/>
<path d="M336.50 666.93V669.95M335.60 666.93h1.8M335.60 669.95h1.8" stroke="#42669a" stroke-width="1.15" fill="none"/>
<circle cx="336.50" cy="668.44" r="1.25" fill="#42669a"/>
<path d="M338.00 665.15V668.29M337.10 665.15h1.8M337.10 668.29h1.8" stroke="#42669a" stroke-width="1.15" fill="none"/>
<circle cx="338.00" cy="666.72" r="1.25" fill="#42669a"/>
<path d="M339.50 663.43V666.68M338.60 663.43h1.8M338.60 666.68h1.8" stroke="#42669a" stroke-width="1.15" fill="none"/>
<circle cx="339.50" cy="665.05" r="1.25" fill="#42669a"/>
<path d="M341.00 662.65V666.00M340.10 662.65h1.8M340.10 666.00h1.8" stroke="#42669a" stroke-width="1.15" fill="none"/>
<circle cx="341.00" cy="664.32" r="1.25" fill="#42669a"/>
<path d="M342.50 660.07V663.54M341.60 660.07h1.8M341.60 663.54h1.8" stroke="#42669a" stroke-width="1.15" fill="none"/>
<circle cx="342.50" cy="661.80" r="1.25" fill="#42669a"/>
<path d="M344.00 658.50V662.08M343.10 658.50h1.8M343.10 662.08h1.8" stroke="#42669a" stroke-width="1.15" fill="none"/>
<circle cx="344.00" cy="660.29" r="1.25" fill="#42669a"/>
<path d="M345.50 656.21V659.90M344.60 656.21h1.8M344.60 659.90h1.8" stroke="#42669a" stroke-width="1.15" fill="none"/>
<circle cx="345.50" cy="658.06" r="1.25" fill="#42669a"/>
<path d="M347.50 652.50V656.50M346.60 652.50h1.8M346.60 656.50h1.8" stroke="#42669a" stroke-width="1.15" fill="none"/>
<circle cx="347.50" cy="654.50" r="1.25" fill="#42669a"/>
<path d="M350.90 649.60V654.00M350.00 649.60h1.8M350.00 654.00h1.8" stroke="#42669a" stroke-width="1.15" fill="none"/>
<circle cx="350.90" cy="651.80" r="1.25" fill="#42669a"/>
<path d="M354.20 646.10V650.90M353.30 646.10h1.8M353.30 650.90h1.8" stroke="#42669a" stroke-width="1.15" fill="none"/>
<circle cx="354.20" cy="648.50" r="1.25" fill="#42669a"/>
<path d="M358.30 641.60V647.20M357.40 641.60h1.8M357.40 647.20h1.8" stroke="#42669a" stroke-width="1.15" fill="none"/>
<circle cx="358.30" cy="644.40" r="1.25" fill="#42669a"/>
<path d="M364.30 633.20V640.80M363.40 633.20h1.8M363.40 640.80h1.8" stroke="#42669a" stroke-width="1.15" fill="none"/>
<circle cx="364.30" cy="637.00" r="1.25" fill="#42669a"/>
<path d="M381.80 620.20V628.80M380.90 620.20h1.8M380.90 628.80h1.8" stroke="#42669a" stroke-width="1.15" fill="none"/>
<circle cx="381.80" cy="624.50" r="1.25" fill="#42669a"/>
</svg>
</body></html>
